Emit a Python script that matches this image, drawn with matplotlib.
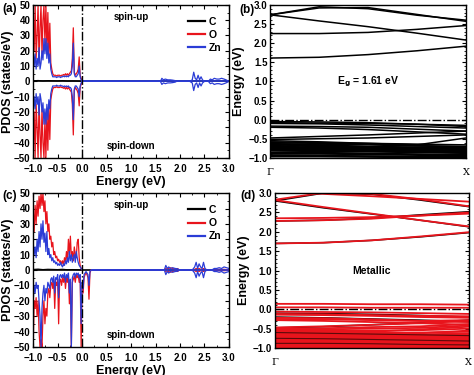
import numpy as np
import matplotlib.pyplot as plt
from matplotlib.ticker import MultipleLocator

plt.rcParams['font.family'] = ['Liberation Sans', 'DejaVu Sans']
plt.rcParams['font.weight'] = 'bold'

# ---------- PDOS data (grid step 0.02 eV from -1.0 eV) ----------
step = 0.02
# panel (a): spin-up, the spin-down part is the mirror image
a_O_up = [45, 20, 50, 15, 30, 50, 12, 35, 50, 18, 40, 50, 25, 50, 20, 45, 15, 38, 12, 8,
          5, 4, 4, 4, 3.5, 4, 4, 4, 3.5, 4, 4, 4.5, 4, 5, 4, 5, 4, 5, 6, 7,
          15, 35, 6, 4, 5, 6, 8, 16, 4, 2, 0]
a_Zn_up = [20, 10, 18, 8, 15, 10, 22, 8, 12, 20, 14, 28, 18, 28, 15, 25, 12, 18, 8, 5,
           3, 3, 3, 3, 2.5, 3, 3, 3, 2.5, 3, 3, 3.5, 3, 3.5, 3, 3.5, 3, 4, 4, 5,
           10, 25, 5, 3, 3, 4, 5, 10, 3, 1, 0]
a_hi_E = [0.0, 1.60, 1.63, 1.66, 1.70, 1.75, 1.80, 1.85, 1.90, 1.93, 2.20, 2.25, 2.28, 2.31,
          2.34, 2.37, 2.40, 2.43, 2.46, 2.50, 2.58, 2.62, 2.66, 2.70, 2.75, 2.80, 2.85, 2.90,
          2.94, 3.0]
a_hi_Zn = [0, 0, 2, 1, 1.5, 1, 1, 0.8, 0.5, 0, 0, 1, 6, 2, 1, 4, 1, 3, 1, 0,
           0, 1.5, 1, 2, 1.5, 1.5, 2, 1.5, 1, 0]

# panel (c): spin-up and spin-down differ
c_O_up = [40, 25, 42, 30, 45, 35, 48, 40, 50, 42, 50, 38, 45, 30, 38, 25, 30, 20, 22, 15,
          18, 10, 12, 8, 9, 6, 7, 5, 6, 4, 6, 3, 8, 5, 12, 6, 20, 10, 22, 8,
          12, 6, 15, 10, 8, 18, 20, 8, 3, 1, 0]
c_Zn_up = [18, 10, 15, 8, 20, 12, 25, 15, 30, 20, 32, 18, 24, 12, 25, 10, 14, 8, 10, 6,
           8, 5, 6, 4, 5, 3, 4, 3, 5, 3, 2, 4, 3, 6, 4, 8, 5, 12, 6, 10,
           5, 8, 10, 5, 12, 8, 5, 3, 2, 1, 0]
c_O_dn = [-50, -20, -25, -18, -30, -20, -40, -50, -45, -50, -30, -20, -35, -25, -30, -15,
          -12, -18, -10, -8, -12, -6, -25, -8, -10, -6, -35, -8, -6, -10, -5, -8, -4, -12,
          -5, -8, -4, -22, -10, -50, -8, -6, -4, -8, -3, -5, -3, -8, -4, -50, -10, -15,
          -5, -3, -2, -3, -5, -19, -2, 0, 0]
c_Zn_dn = [-20, -10, -15, -8, -12, -10, -20, -30, -50, -25, -15, -10, -20, -12, -15, -8,
           -10, -12, -6, -5, -8, -4, -15, -5, -6, -3, -18, -4, -3, -5, -3, -5, -2, -8,
           -3, -5, -2, -15, -6, -50, -5, -3, -2, -5, -2, -3, -2, -5, -3, -35, -8, -12,
           -3, -2, -1, -2, -3, -10, -1, 0, 0]
c_hi_E = [0.2, 1.68, 1.71, 1.74, 1.77, 1.80, 1.85, 1.90, 1.95, 1.99, 2.25, 2.30, 2.33, 2.36,
          2.39, 2.42, 2.45, 2.48, 2.51, 2.55, 2.65, 2.70, 2.75, 2.80, 2.85, 2.90, 2.95, 3.0]
c_hi_Zn = [0, 0, 3, 1, 2, 1, 1.5, 1, 0.8, 0, 0, 2, 5, 1, 4, 2, 1, 5, 1, 0,
           0, 1, 1, 1.5, 1, 2, 1.5, 1]
c_hi_O = [0, 0, 1, 0.5, 1, 1.5, 1, 0.5, 1, 0, 0, 0.5, 1, 0.5, 1, 0.5, 0.5, 1, 0.5, 0,
          0, 0.3, 0.3, 0.5, 0.3, 0.5, 0.3, 0.3]
C_small = [0.4, 0.6, 0.3, 0.5, 0.4, 0.3, 0.5, 0.2, 0.3, 0.2, 0.0]

# ---------- band data: energies at k = 0, 0.25, 0.5, 0.75, 1 (Gamma -> X) ----------
k_pts = [0.0, 0.25, 0.5, 0.75, 1.0]
b_bands = [
    [1.61, 1.63, 1.70, 1.80, 1.92],
    [2.25, 2.25, 2.28, 2.36, 2.46],
    [2.74, 2.58, 2.43, 2.26, 2.08],
    [2.74, 2.92, 2.93, 2.75, 2.57],
    [2.74, 2.95, 2.90, 2.73, 2.60],
    [-0.05, -0.06, -0.08, -0.12, -0.15],
    [-0.08, -0.09, -0.10, -0.12, -0.18],
    [-0.10, -0.11, -0.14, -0.18, -0.22],
    [-0.17, -0.18, -0.20, -0.25, -0.30],
    [-0.20, -0.22, -0.26, -0.32, -0.38],
    [-0.48, -0.44, -0.40, -0.35, -0.30],
    [-0.52, -0.50, -0.48, -0.44, -0.40],
    [-0.55, -0.58, -0.62, -0.66, -0.48],
    [-0.58, -0.60, -0.62, -0.64, -0.66],
    [-0.60, -0.62, -0.64, -0.68, -0.70],
    [-0.63, -0.64, -0.66, -0.69, -0.71],
    [-0.64, -0.66, -0.70, -0.72, -0.72],
    [-0.66, -0.68, -0.71, -0.73, -0.74],
    [-0.68, -0.70, -0.72, -0.74, -0.76],
    [-0.70, -0.72, -0.74, -0.76, -0.78],
    [-0.72, -0.74, -0.76, -0.78, -0.80],
    [-0.74, -0.75, -0.77, -0.79, -0.82],
    [-0.75, -0.76, -0.78, -0.80, -0.84],
    [-0.77, -0.78, -0.80, -0.82, -0.85],
    [-0.78, -0.80, -0.82, -0.84, -0.86],
    [-0.80, -0.81, -0.83, -0.85, -0.87],
    [-0.82, -0.83, -0.84, -0.86, -0.88],
    [-0.86, -0.86, -0.88, -0.90, -0.92],
    [-0.88, -0.88, -0.89, -0.91, -0.93],
    [-0.90, -0.90, -0.91, -0.93, -0.95],
    [-0.93, -0.94, -0.95, -0.96, -0.97],
    [-0.95, -0.95, -0.96, -0.97, -0.98],
    [-0.97, -0.97, -0.98, -0.99, -1.00],
]
d_bands_black = [
    [1.70, 1.72, 1.78, 1.87, 1.98],
    [2.28, 2.30, 2.35, 2.44, 2.52],
    [2.80, 2.62, 2.46, 2.30, 2.13],
    [2.80, 3.00, 2.97, 2.82, 2.65],
    [-0.10, -0.11, -0.13, -0.16, -0.20],
    [-0.20, -0.22, -0.25, -0.28, -0.32],
    [-0.48, -0.45, -0.40, -0.35, -0.28],
]
d_bands_red = [
    [1.70, 1.72, 1.78, 1.88, 1.99],
    [2.35, 2.36, 2.38, 2.42, 2.47],
    [2.28, 2.30, 2.34, 2.42, 2.50],
    [2.82, 2.64, 2.47, 2.30, 2.14],
    [2.83, 3.01, 2.98, 2.84, 2.66],
    [3.05, 2.98, 2.92, 2.85, 2.78],
    [0.14, 0.14, 0.13, 0.13, 0.12],
    [0.05, 0.05, 0.04, 0.04, 0.04],
    [-0.06, -0.07, -0.08, -0.10, -0.12],
    [-0.12, -0.13, -0.15, -0.17, -0.18],
    [-0.14, -0.15, -0.17, -0.20, -0.22],
    [-0.22, -0.23, -0.26, -0.30, -0.33],
    [-0.25, -0.26, -0.28, -0.30, -0.28],
    [-0.28, -0.30, -0.33, -0.36, -0.40],
    [-0.47, -0.44, -0.40, -0.36, -0.30],
    [-0.50, -0.49, -0.46, -0.44, -0.38],
    [-0.52, -0.52, -0.50, -0.48, -0.42],
    [-0.53, -0.55, -0.58, -0.52, -0.45],
    [-0.55, -0.56, -0.55, -0.54, -0.50],
    [-0.56, -0.58, -0.60, -0.62, -0.55],
    [-0.58, -0.59, -0.61, -0.60, -0.58],
    [-0.60, -0.61, -0.63, -0.65, -0.62],
    [-0.62, -0.62, -0.64, -0.66, -0.64],
    [-0.63, -0.64, -0.66, -0.68, -0.66],
    [-0.65, -0.66, -0.67, -0.69, -0.68],
    [-0.66, -0.67, -0.69, -0.70, -0.70],
    [-0.68, -0.69, -0.70, -0.72, -0.72],
    [-0.69, -0.70, -0.72, -0.73, -0.74],
    [-0.71, -0.72, -0.73, -0.75, -0.76],
    [-0.72, -0.73, -0.75, -0.76, -0.77],
    [-0.74, -0.75, -0.76, -0.78, -0.79],
    [-0.75, -0.76, -0.78, -0.79, -0.80],
    [-0.77, -0.78, -0.79, -0.81, -0.82],
    [-0.78, -0.79, -0.81, -0.82, -0.83],
    [-0.80, -0.81, -0.82, -0.84, -0.85],
    [-0.81, -0.82, -0.84, -0.85, -0.86],
    [-0.83, -0.84, -0.85, -0.87, -0.88],
    [-0.84, -0.85, -0.87, -0.88, -0.89],
    [-0.86, -0.87, -0.88, -0.90, -0.91],
    [-0.87, -0.88, -0.90, -0.91, -0.92],
    [-0.89, -0.90, -0.91, -0.92, -0.93],
    [-0.90, -0.91, -0.93, -0.94, -0.95],
    [-0.92, -0.93, -0.94, -0.95, -0.96],
    [-0.93, -0.94, -0.95, -0.96, -0.97],
    [-0.95, -0.96, -0.97, -0.98, -0.98],
    [-0.96, -0.97, -0.98, -0.99, -1.00],
    [-0.98, -0.99, -0.99, -1.00, -1.00],
]
d_bands_dark = [
    [-0.60, -0.62, -0.64, -0.66, -0.68],
    [-0.75, -0.76, -0.78, -0.80, -0.82],
    [-0.88, -0.88, -0.89, -0.91, -0.92],
]

RED = '#e8141c'
BLUE = '#2b3cd6'
TICK_FS = 7
LAB_FS = 9


def grid(vals):
    return -1.0 + step * np.arange(len(vals))


def style_axes(ax):
    ax.tick_params(direction='in', top=True, right=True, labelsize=TICK_FS,
                   length=3, width=0.8, pad=2)
    ax.tick_params(which='minor', direction='in', top=True, right=True, length=1.5, width=0.6)
    for s in ax.spines.values():
        s.set_linewidth(1.0)


def pdos_panel(ax, O_up, Zn_up, O_dn, Zn_dn, hiE, hiZn, hiO):
    cx = [-1.0 + 0.1 * i for i in range(len(C_small))]
    ax.plot([-1.0, 3.0], [0, 0], color='black', lw=1.2, label='C')
    ax.plot(cx, C_small, color='black', lw=0.8)
    ax.plot(grid(O_up), O_up, color=RED, lw=0.9, label='O')
    ax.plot(grid(O_dn), O_dn, color=RED, lw=0.9)
    ax.plot(grid(Zn_up), Zn_up, color=BLUE, lw=0.9, label='Zn')
    ax.plot(grid(Zn_dn), Zn_dn, color=BLUE, lw=0.9)
    if hiO is not None:
        ax.plot(hiE, hiO, color=RED, lw=0.8)
        ax.plot(hiE, [-v for v in hiO], color=RED, lw=0.8)
    ax.plot(hiE, hiZn, color=BLUE, lw=0.9)
    ax.plot(hiE, [-v for v in hiZn], color=BLUE, lw=0.9)
    ax.plot([max(grid(Zn_dn)), 3.0], [0, 0], color=BLUE, lw=1.2)
    ax.axvline(0, color='black', lw=1.0, ls='-.')
    ax.set_xlim(-1.0, 3.0)
    ax.set_ylim(-50, 50)
    ax.xaxis.set_major_locator(MultipleLocator(0.5))
    ax.xaxis.set_minor_locator(MultipleLocator(0.25))
    ax.yaxis.set_major_locator(MultipleLocator(10))
    ax.yaxis.set_minor_locator(MultipleLocator(5))
    style_axes(ax)
    ax.tick_params(axis='x', pad=4.5)
    ax.set_xlabel('Energy (eV)', fontsize=LAB_FS, fontweight='bold', labelpad=1)
    ax.set_ylabel('PDOS (states/eV)', fontsize=LAB_FS, fontweight='bold', labelpad=0)
    ax.text(1.0, 42, 'spin-up', fontsize=7, fontweight='bold', ha='center', va='center')
    ax.text(1.0, -42, 'spin-down', fontsize=7, fontweight='bold', ha='center', va='center')
    leg = ax.legend(loc='upper right', frameon=False, fontsize=7.5, handlelength=1.6,
                    handletextpad=0.4, labelspacing=0.3, borderaxespad=0.3,
                    bbox_to_anchor=(1.0, 0.97))
    for line in leg.get_lines():
        line.set_linewidth(1.6)


def band_panel(ax, black, red, dark, text):
    for b in black:
        ax.plot(k_pts, b, color='black', lw=1.1)
    for b in red:
        ax.plot(k_pts, b, color=RED, lw=1.3)
    for b in dark:
        ax.plot(k_pts, b, color='#5a0a0a', lw=0.8)
    ax.axhline(0, color='black', lw=1.0, ls='-.')
    ax.set_xlim(0, 1)
    ax.set_ylim(-1.0, 3.0)
    ax.set_xticks([0, 1])
    ax.set_xticklabels(['\u0393', 'X'], fontfamily='DejaVu Serif', fontweight='normal', fontsize=8)
    ax.yaxis.set_major_locator(MultipleLocator(0.5))
    ax.yaxis.set_minor_locator(MultipleLocator(0.1))
    ax.set_ylabel('Energy (eV)', fontsize=LAB_FS, fontweight='bold', labelpad=2)
    ax.text(0.5, 1.0, text, fontsize=7.5, fontweight='bold', ha='center', va='center')
    style_axes(ax)
    ax.tick_params(axis='x', length=0, pad=7)


fig = plt.figure(figsize=(4.74, 3.75), dpi=100)
ax_a = fig.add_axes([0.070, 0.579, 0.413, 0.408])
ax_b = fig.add_axes([0.570, 0.579, 0.413, 0.408])
ax_c = fig.add_axes([0.070, 0.075, 0.413, 0.410])
ax_d = fig.add_axes([0.580, 0.072, 0.409, 0.413])

pdos_panel(ax_a, a_O_up, a_Zn_up, [-v for v in a_O_up], [-v for v in a_Zn_up],
           a_hi_E, a_hi_Zn, None)
pdos_panel(ax_c, c_O_up, c_Zn_up, c_O_dn, c_Zn_dn, c_hi_E, c_hi_Zn, c_hi_O)
band_panel(ax_b, b_bands, [], [], 'E$_\\mathbf{g}$ = 1.61 eV')
band_panel(ax_d, d_bands_black, d_bands_red, d_bands_dark, 'Metallic')

fig.text(0.005, 0.975, '(a)', fontsize=8.5, fontweight='bold', va='center')
fig.text(0.505, 0.972, '(b)', fontsize=8.5, fontweight='bold', va='center')
fig.text(0.005, 0.478, '(c)', fontsize=8.5, fontweight='bold', va='center')
fig.text(0.508, 0.478, '(d)', fontsize=8.5, fontweight='bold', va='center')

fig.savefig('out.png', dpi=100)
